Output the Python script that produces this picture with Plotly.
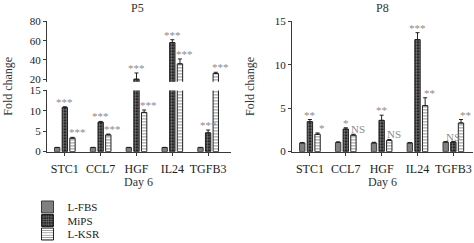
import plotly.graph_objects as go

genes = ["STC1", "CCL7", "HGF", "IL24", "TGFB3"]
groups = ["L-FBS", "MiPS", "L-KSR"]

# P5 values and errors
p5_fbs = [1.0, 1.0, 1.0, 1.0, 1.0]
p5_fbs_err = [0.05, 0.05, 0.05, 0.05, 0.05]
p5_mips = [10.8, 7.2, 20.0, 58.0, 4.6]
p5_mips_err = [0.2, 0.2, 6.5, 3.0, 0.7]
p5_ksr = [3.3, 4.1, 9.6, 36.0, 26.0]
p5_ksr_err = [0.2, 0.2, 0.6, 5.0, 1.2]
p5_mips_sig = ["***", "***", "***", "***", "***"]
p5_ksr_sig = ["***", "***", "***", "***", "***"]

# P8 values and errors
p8_fbs = [1.0, 1.05, 1.0, 1.0, 1.1]
p8_fbs_err = [0.05, 0.08, 0.08, 0.05, 0.05]
p8_mips = [3.45, 2.6, 3.6, 12.9, 1.1]
p8_mips_err = [0.25, 0.15, 0.6, 0.8, 0.05]
p8_ksr = [2.0, 1.9, 1.3, 5.3, 3.3]
p8_ksr_err = [0.15, 0.1, 0.1, 0.9, 0.4]
p8_mips_sig = ["**", "*", "**", "***", "NS"]
p8_ksr_sig = ["*", "NS", "NS", "**", "**"]

FONT = "Liberation Serif, Times New Roman, DejaVu Serif, serif"
STAR = "#8c8c8c"
AX = "#3a3a3a"

styles = {
    "L-FBS": dict(color="#808080", line=dict(color="#3a3a3a", width=1)),
    "MiPS": dict(color="black", line=dict(color="#222", width=1),
                 pattern=dict(shape=".", fgcolor="white", bgcolor="black", size=3, solidity=0.55)),
    "L-KSR": dict(color="white", line=dict(color="#222", width=1),
                  pattern=dict(shape="-", fgcolor="#222", bgcolor="white", size=3, solidity=0.35)),
}
legend_ids = {"L-FBS": "legend", "MiPS": "legend2", "L-KSR": "legend3"}

fig = go.Figure()

def add_bars(vals, errs, xa, ya, legend):
    for g, v, e in zip(groups, vals, errs):
        fig.add_trace(go.Bar(
            x=genes, y=v, name=g, xaxis=xa, yaxis=ya, marker=styles[g],
            error_y=dict(type="data", array=e, symmetric=False, arrayminus=[0]*len(e),
                         color="#222", thickness=1, width=2),
            showlegend=legend, legendgroup=g, legend=legend_ids[g]))

add_bars([p5_fbs, p5_mips, p5_ksr], [p5_fbs_err, p5_mips_err, p5_ksr_err], "x", "y", True)
add_bars([p5_fbs, p5_mips, p5_ksr], [p5_fbs_err, p5_mips_err, p5_ksr_err], "x", "y2", False)
add_bars([p8_fbs, p8_mips, p8_ksr], [p8_fbs_err, p8_mips_err, p8_ksr_err], "x2", "y3", False)

ann = []
def stars(vals, errs, sigs, off, xa, ya_low, ya_high=None, brk=15, xshift=0):
    for i, (v, e, s) in enumerate(zip(vals, errs, sigs)):
        top = v + e
        ya = ya_low
        if ya_high is not None and top > brk:
            ya = ya_high
        ann.append(dict(x=i, y=top, xref=xa, yref=ya, text=s, showarrow=False,
                        xshift=off * 8.2 + xshift, yanchor="bottom", yshift=-3,
                        font=dict(family=FONT, size=11, color=STAR)))

stars(p5_mips, p5_mips_err, p5_mips_sig, 0, "x", "y", "y2")
stars(p5_ksr, p5_ksr_err, p5_ksr_sig, 1, "x", "y", "y2", xshift=4)
stars(p8_mips, p8_mips_err, p8_mips_sig, 0, "x2", "y3")
stars(p8_ksr, p8_ksr_err, p8_ksr_sig, 1, "x2", "y3", xshift=4)

for txt, x in [("P5", 0.29), ("P8", 0.806)]:
    ann.append(dict(x=x, y=1.0, xref="paper", yref="paper", text=txt, showarrow=False,
                    xanchor="center", yanchor="top", yshift=1,
                    font=dict(family=FONT, size=12, color="#333")))
for x in [0.018, 0.529]:
    ann.append(dict(x=x, y=0.645, xref="paper", yref="paper", text="Fold change", showarrow=False,
                    xanchor="center", yanchor="middle", textangle=-90,
                    font=dict(family=FONT, size=12, color="#333")))
for x in [0.293, 0.807]:
    ann.append(dict(x=x, y=0.249, xref="paper", yref="paper", text="Day 6", showarrow=False,
                    xanchor="center", yanchor="middle",
                    font=dict(family=FONT, size=12, color="#333")))

axis_common = dict(showline=True, linecolor=AX, linewidth=1, ticks="outside", ticklen=3,
                   tickcolor=AX, showgrid=False, zeroline=False,
                   tickfont=dict(family=FONT, size=11, color="#222"))
xaxis_common = {**axis_common, "ticklen": 3, "ticklabelstandoff": 3,
                "tickfont": dict(family=FONT, size=12, color="#222")}

def leg(ypx):
    return dict(x=0.058, y=1 - ypx / 243, xanchor="left", yanchor="middle",
                bgcolor="rgba(0,0,0,0)", borderwidth=0,
                font=dict(family=FONT, size=11, color="#222"), itemwidth=30)

fig.update_layout(
    width=474, height=243, margin=dict(l=0, r=0, t=0, b=0, autoexpand=False),
    paper_bgcolor="white", plot_bgcolor="white",
    barmode="group", bargap=0.36, bargroupgap=0.3,
    font=dict(family=FONT, size=11, color="#222"),
    xaxis=dict(domain=[0.099, 0.487], anchor="y", **xaxis_common),
    yaxis=dict(domain=[0.376, 0.628], range=[0, 15], tickvals=[0, 5, 10, 15], anchor="x", **axis_common),
    yaxis2=dict(domain=[0.664, 0.912], range=[17.5, 80], tickvals=[20, 40, 60, 80], anchor="x", **axis_common),
    xaxis2=dict(domain=[0.616, 0.998], anchor="y3", **xaxis_common),
    yaxis3=dict(domain=[0.376, 0.912], range=[0, 15], tickvals=[0, 5, 10, 15], anchor="x2", **axis_common),
    legend=leg(207),
    legend2=leg(220.5),
    legend3=leg(234),
    annotations=ann,
)

fig.write_html("out.html")
